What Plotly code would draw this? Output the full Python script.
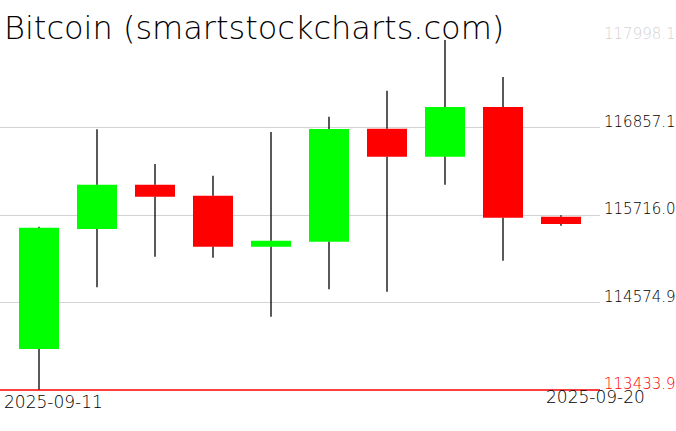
import pandas as pd
import plotly.graph_objects as go

# данные свечей (оценка по картинке)
dates = pd.date_range("2025-09-11", "2025-09-20", freq="D")
opens = [113968.6, 115533.5, 116111.2, 115967.8, 115302.7, 115367.9, 116841.5, 116476.4, 117124.5, 115693.9]
highs = [115563.5, 116833.7, 116381.2, 116228.6, 116798.5, 116998.0, 117337.1, 117998.1, 117515.7, 115712.0]
lows = [113433.9, 114773.2, 115172.3, 115159.2, 114389.8, 114747.1, 114715.8, 116111.2, 115120.1, 115576.5]
closes = [115550.5, 116111.2, 115954.7, 115302.7, 115380.9, 116837.6, 116476.4, 117124.5, 115680.9, 115598.7]

price_levels = [117998.1, 116857.1, 115716.0, 114574.9, 113433.9]
level_labels = ["117998.1", "116857.1", "115716.0", "114574.9", "113433.9"]
date_labels = ["2025-09-11", "2025-09-20"]
title = "Bitcoin (smartstockcharts.com)"

GREEN = "#00ff00"
RED = "#ff0000"
FONT = "DejaVu Sans"

day = 86400000
lower = [min(o, c) for o, c in zip(opens, closes)]
upper = [max(o, c) for o, c in zip(opens, closes)]
colors = [GREEN if c >= o else RED for o, c in zip(opens, closes)]

fig = go.Figure()

# фитили: верхний и нижний отрезки
wx, wy = [], []
for d, h, l, lo, up in zip(dates, highs, lows, lower, upper):
    wx += [d, d, None, d, d, None]
    wy += [h, up, None, lo, l, None]
fig.add_trace(go.Scatter(x=wx, y=wy, mode="lines",
                         line=dict(color="black", width=1.3),
                         hoverinfo="skip", showlegend=False))

# тела свечей
fig.add_trace(go.Bar(x=dates, y=[u - l for u, l in zip(upper, lower)], base=lower,
                     width=day * 40 / 58, marker=dict(color=colors, line=dict(width=0)),
                     showlegend=False, hoverinfo="skip"))

x0 = dates[0] - pd.Timedelta(hours=24 * 39 / 58)
x1 = dates[-1] + pd.Timedelta(hours=24 * 39 / 58)

fig.update_xaxes(range=[x0, x1], showgrid=False, showticklabels=False,
                 zeroline=False, showline=False, ticks="")
fig.update_yaxes(range=[price_levels[-1], price_levels[0]], tickvals=price_levels[:-1],
                 showgrid=True, gridcolor="#d3d3d3", gridwidth=1,
                 showticklabels=False, zeroline=False, showline=False, ticks="")

# нижняя красная линия
fig.add_shape(type="line", xref="paper", x0=0, x1=1, yref="paper", y0=0, y1=0,
              line=dict(color=RED, width=1.5))

# подписи уровней справа
for i, (v, t) in enumerate(zip(price_levels, level_labels)):
    if i == 0:
        col = "#d3d3d3"
    elif i == len(price_levels) - 1:
        col = RED
    else:
        col = "black"
    fig.add_annotation(x=1, xref="paper", y=v, yref="y", text=t, showarrow=False,
                       xanchor="left", yanchor="bottom", xshift=2, yshift=-5,
                       font=dict(family=FONT, size=15, color=col, weight=200))

# подписи дат
fig.add_annotation(x=0, xref="paper", y=0, yref="paper", text=date_labels[0],
                   showarrow=False, xanchor="left", yanchor="top", xshift=2, yshift=0,
                   font=dict(family=FONT, size=17, color="black", weight=200))
fig.add_annotation(x=1, xref="paper", y=0, yref="paper", text=date_labels[1],
                   showarrow=False, xanchor="right", yanchor="top", xshift=47, yshift=5,
                   font=dict(family=FONT, size=17, color="black", weight=200))

# заголовок
fig.add_annotation(x=0, xref="paper", y=1, yref="paper", text=title, showarrow=False,
                   xanchor="left", yanchor="bottom", xshift=2, yshift=-9,
                   font=dict(family=FONT, size=32, color="black", weight=200))

fig.update_layout(width=676, height=431, barmode="overlay",
                  margin=dict(l=0, r=76, t=40, b=41),
                  plot_bgcolor="white", paper_bgcolor="white")

fig.write_html("out.html", config={"displayModeBar": False},
               post_script="document.body.style.margin='0';")
